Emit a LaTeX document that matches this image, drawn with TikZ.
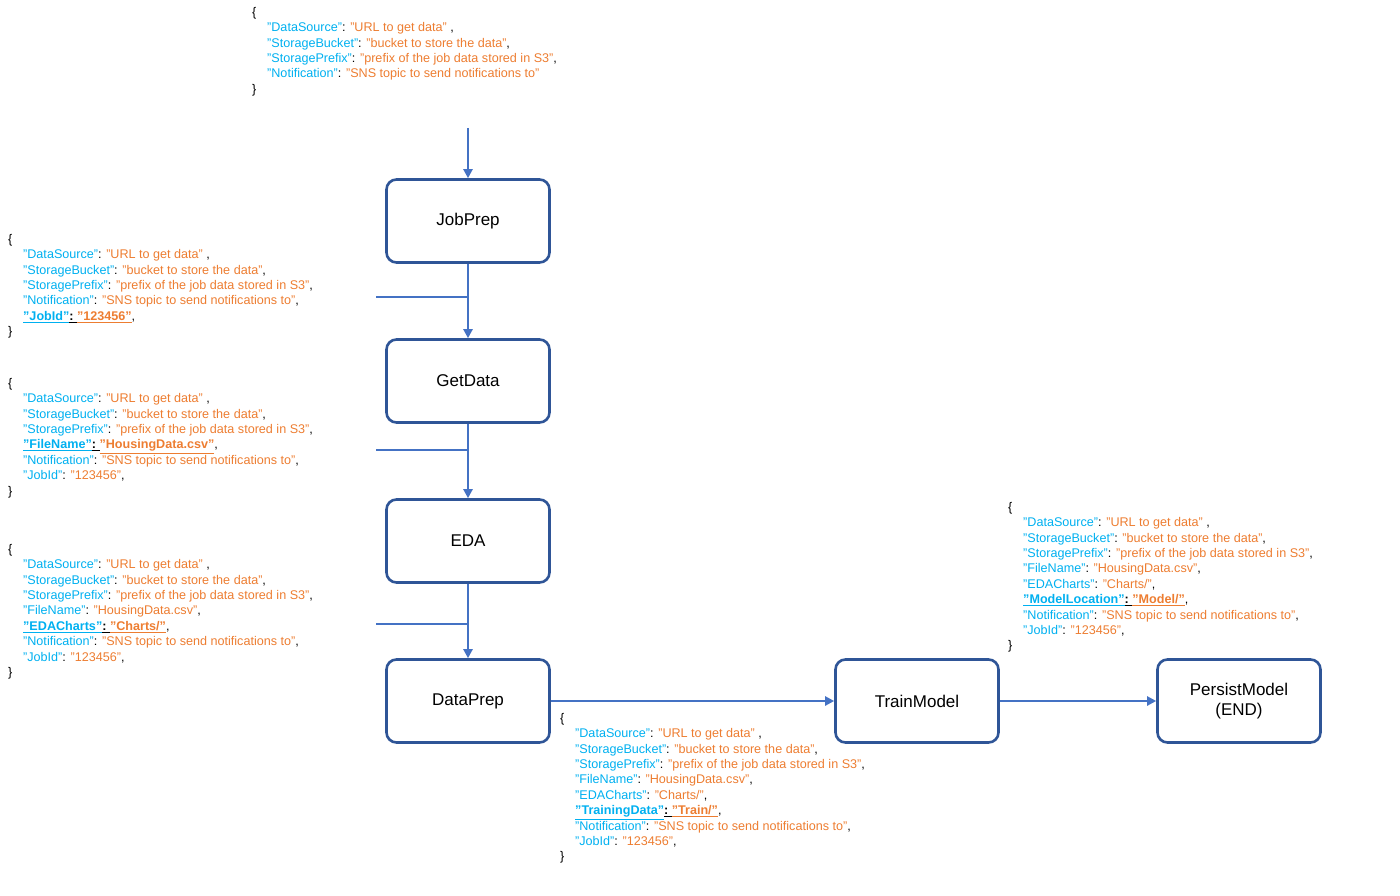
\documentclass[tikz,border=0pt]{standalone}
\usepackage{fontspec}
\setmainfont{Liberation Sans}
\usetikzlibrary{arrows.meta}
\definecolor{kc}{HTML}{00B0F0}
\definecolor{vc}{HTML}{ED7D31}
\definecolor{ac}{HTML}{4472C4}
\definecolor{bc}{HTML}{2F5597}
\newcommand{\jk}[1]{\textcolor{kc}{"#1"}}
\newcommand{\jv}[1]{\textcolor{vc}{"#1"}}
\newcommand{\jl}[2]{\hspace*{15pt}\jk{#1}: \jv{#2}}
\newcommand{\ju}[2]{\hspace*{15pt}\textbf{\textcolor{kc}{\underline{"#1"}}\underline{:~}\textcolor{vc}{\underline{"#2"}}},}
\newcommand{\lDS}{\jl{DataSource}{URL to get data} ,}
\newcommand{\lSB}{\jl{StorageBucket}{bucket to store the data},}
\newcommand{\lSP}{\jl{StoragePrefix}{prefix of the job data stored in S3},}
\newcommand{\lNO}{\jl{Notification}{SNS topic to send notifications to},}
\newcommand{\lJI}{\jl{JobId}{123456},}
\newcommand{\lFN}{\jl{FileName}{HousingData.csv},}
\newcommand{\lEC}{\jl{EDACharts}{Charts/},}
\begin{document}
\begin{tikzpicture}[x=1pt,y=-1pt,
  box/.style={draw=bc,line width=2.6pt,rounded corners=10pt,minimum width=163pt,minimum height=83pt,font=\fontsize{17}{20}\selectfont,align=center},
  json/.style={anchor=north west,align=left,inner sep=0pt,font=\fontsize{12.6}{15.4}\selectfont},
  arr/.style={draw=ac,line width=2.2pt,-{Triangle[length=9pt,width=9pt]}},
  ln/.style={draw=ac,line width=2.2pt}]
\useasboundingbox (0,0) rectangle (1400,896);
\node[box] (jp) at (468,221) {JobPrep};
\node[box] (gd) at (468,381) {GetData};
\node[box] (eda) at (468,541) {EDA};
\node[box] (dp) at (468,701) {DataPrep};
\node[box] (tm) at (917,701) {TrainModel};
\node[box] (pm) at (1239,701) {PersistModel\\(END)};
\coordinate (top) at (468,128);
\coordinate (s1) at (376,297);
\coordinate (j1) at (468,297);
\coordinate (s2) at (376,450);
\coordinate (j2) at (468,450);
\coordinate (s3) at (376,624);
\coordinate (j3) at (468,624);
\draw[arr] (top) -- (jp);
\draw[arr] (jp) -- (gd);
\draw[arr] (gd) -- (eda);
\draw[arr] (eda) -- (dp);
\draw[arr] (dp) -- (tm);
\draw[arr] (tm) -- (pm);
\draw[ln] (s1) -- (j1);
\draw[ln] (s2) -- (j2);
\draw[ln] (s3) -- (j3);
\node[json] (b1) at (252,7) {\{\\\lDS\\\lSB\\\lSP\\\jl{Notification}{SNS topic to send notifications to}\\\}};
\node[json] (b2) at (8,234) {\{\\\lDS\\\lSB\\\lSP\\\lNO\\\ju{JobId}{123456}\\\}};
\node[json] (b3) at (8,378) {\{\\\lDS\\\lSB\\\lSP\\\ju{FileName}{HousingData.csv}\\\lNO\\\jl{JobId}{123456},\\\}};
\node[json] (b4) at (8,544) {\{\\\lDS\\\lSB\\\lSP\\\lFN\\\ju{EDACharts}{Charts/}\\\lNO\\\jl{JobId}{123456},\\\}};
\node[json] (b5) at (560,713) {\{\\\lDS\\\lSB\\\lSP\\\lFN\\\lEC\\\ju{TrainingData}{Train/}\\\lNO\\\lJI\\\}};
\node[json] (b6) at (1008,502) {\{\\\lDS\\\lSB\\\lSP\\\lFN\\\lEC\\\ju{ModelLocation}{Model/}\\\lNO\\\jl{JobId}{123456},\\\}};
\end{tikzpicture}
\end{document}
